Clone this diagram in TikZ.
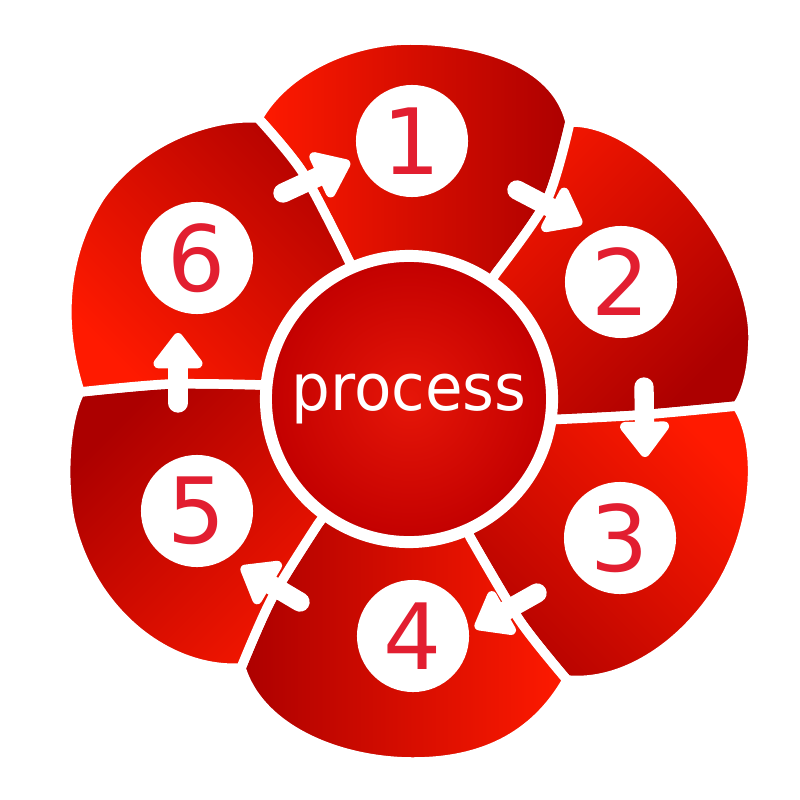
\documentclass[tikz,border=0pt]{standalone}
\usepackage{fontspec}
\usepackage{graphicx}
\usetikzlibrary{arrows.meta}
\newfontfamily\cifras{DejaVu Sans}
\definecolor{rojoclaro}{RGB}{255,26,0}
\definecolor{rojooscuro}{RGB}{172,0,0}
\definecolor{rojocentro}{RGB}{230,22,8}
\definecolor{rojoborde}{RGB}{194,0,0}
\definecolor{rojocifra}{RGB}{226,30,48}

\begin{document}
\begin{tikzpicture}[x=0.01cm, y=-0.01cm,
	petalo/.style={draw=white, line width=2.7pt, line join=round},
	cifra/.style={circle, fill=white, minimum size=1.12cm, inner sep=0pt, text=rojocifra, font=\cifras\fontsize{26pt}{26pt}\selectfont},
	flecha/.style={white, line width=5.5pt, line cap=round, -{Triangle[round, length=11pt, width=16pt]}}]

	\useasboundingbox (0,0) rectangle (800,800);

	% Coordenadas
	\coordinate (centro) at (409,399);
	\coordinate (l61a) at (350,263); \coordinate (l61b) at (303,173); \coordinate (l61c) at (258,118);
	\coordinate (l12a) at (497,272); \coordinate (l12b) at (547,200); \coordinate (l12c) at (570,122);
	\coordinate (l23a) at (545,420); \coordinate (l23b) at (640,415); \coordinate (l23c) at (737,406);
	\coordinate (l34a) at (470,537); \coordinate (l34b) at (520,621); \coordinate (l34c) at (567,680);
	\coordinate (l45a) at (318,524); \coordinate (l45b) at (272,598); \coordinate (l45c) at (241,668);
	\coordinate (l56a) at (265,385); \coordinate (l56b) at (170,384); \coordinate (l56c) at (80,392);

	% Petalos
	\path[petalo, left color=rojoclaro, right color=rojooscuro]
		(centro) -- plot[smooth] coordinates {(l61a) (l61b) (l61c)}
		.. controls (285,70) and (350,40) .. (410,40) .. controls (475,40) and (555,60) .. (l12c)
		-- plot[smooth] coordinates {(l12c) (l12b) (l12a)} -- cycle;
	\path[petalo, top color=rojoclaro, bottom color=rojooscuro, shading angle=45]
		(centro) -- plot[smooth] coordinates {(l12a) (l12b) (l12c)}
		.. controls (650,120) and (755,250) .. (753,340) .. controls (752,375) and (745,395) .. (l23c)
		-- plot[smooth] coordinates {(l23c) (l23b) (l23a)} -- cycle;
	\path[petalo, top color=rojoclaro, bottom color=rojooscuro, shading angle=-45]
		(centro) -- plot[smooth] coordinates {(l23a) (l23b) (l23c)}
		.. controls (760,440) and (760,520) .. (720,587) .. controls (680,650) and (620,685) .. (l34c)
		-- plot[smooth] coordinates {(l34c) (l34b) (l34a)} -- cycle;
	\path[petalo, left color=rojooscuro, right color=rojoclaro]
		(centro) -- plot[smooth] coordinates {(l34a) (l34b) (l34c)}
		.. controls (530,745) and (470,762) .. (413,762) .. controls (340,762) and (260,730) .. (l45c)
		-- plot[smooth] coordinates {(l45c) (l45b) (l45a)} -- cycle;
	\path[petalo, top color=rojooscuro, bottom color=rojoclaro, shading angle=45]
		(centro) -- plot[smooth] coordinates {(l45a) (l45b) (l45c)}
		.. controls (170,672) and (92,615) .. (70,520) .. controls (62,480) and (65,420) .. (l56c)
		-- plot[smooth] coordinates {(l56c) (l56b) (l56a)} -- cycle;
	\path[petalo, top color=rojooscuro, bottom color=rojoclaro, shading angle=-45]
		(centro) -- plot[smooth] coordinates {(l56a) (l56b) (l56c)}
		.. controls (60,330) and (60,260) .. (100,197) .. controls (140,140) and (210,115) .. (l61c)
		-- plot[smooth] coordinates {(l61c) (l61b) (l61a)} -- cycle;

	% Circulo central
	\node[circle, minimum size=2.86cm, draw=white, line width=3.4pt, inner color=rojocentro, outer color=rojoborde,
		text=white, font=\cifras\fontsize{18.5pt}{18.5pt}\selectfont] (proceso) at (centro) {\scalebox{0.94}[1]{process}};

	% Numeros
	\node[cifra] (n1) at (412,141) {1};
	\node[cifra] (n2) at (621,282) {2};
	\node[cifra] (n3) at (620,538) {3};
	\node[cifra] (n4) at (413,636) {4};
	\node[cifra] (n5) at (197,511) {5};
	\node[cifra] (n6) at (197,258) {6};

	% Flechas
	\coordinate (f61a) at (283,193); \coordinate (f61b) at (350,162);
	\coordinate (f12a) at (517,190); \coordinate (f12b) at (582,224);
	\coordinate (f23a) at (644,387); \coordinate (f23b) at (645,457);
	\coordinate (f34a) at (537,593); \coordinate (f34b) at (475,628);
	\coordinate (f45a) at (300,602); \coordinate (f45b) at (241,567);
	\coordinate (f56a) at (178,403); \coordinate (f56b) at (178,333);
	\draw[flecha] (f61a) -- (f61b);
	\draw[flecha] (f12a) -- (f12b);
	\draw[flecha] (f23a) -- (f23b);
	\draw[flecha] (f34a) -- (f34b);
	\draw[flecha] (f45a) -- (f45b);
	\draw[flecha] (f56a) -- (f56b);

\end{tikzpicture}
\end{document}
